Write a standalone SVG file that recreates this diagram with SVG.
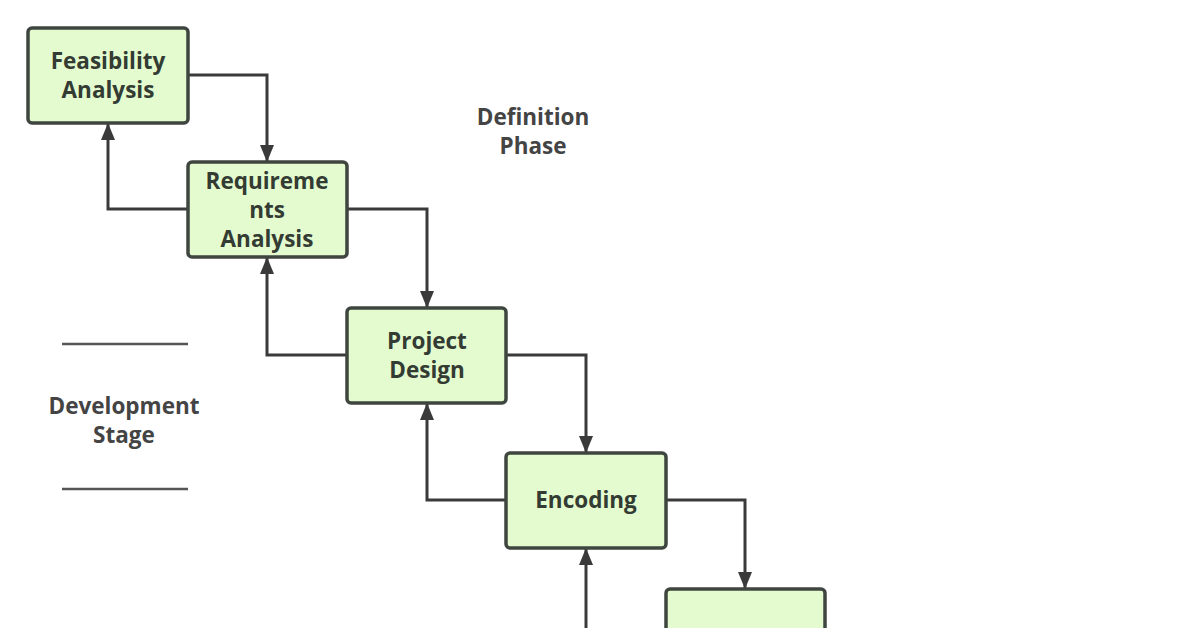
<svg xmlns="http://www.w3.org/2000/svg" width="1200" height="628" viewBox="0 0 1200 628">
<defs>
<style>
.box{fill:#e4fbcf;stroke:#3f453f;stroke-width:3.5}
.t{font-family:"Open Sans","Noto Sans",sans-serif;font-weight:bold;font-size:22.5px;fill:#333b33;text-anchor:middle}
.lbl{font-family:"Open Sans","Noto Sans",sans-serif;font-weight:bold;font-size:22.5px;fill:#444;text-anchor:middle}
.c{fill:none;stroke:#3a3a3a;stroke-width:3}
.rule{stroke:#555;stroke-width:2.5}
</style>
<marker id="ah" markerWidth="17" markerHeight="14" refX="16" refY="7" orient="auto" markerUnits="userSpaceOnUse">
<path d="M0,0 L17,7 L0,14 Z" fill="#3a3a3a"/>
</marker>
</defs>
<rect width="1200" height="628" fill="#fff"/>
<g id="connectors">
<path class="c" d="M188,75 H267 V161" marker-end="url(#ah)"/>
<path class="c" d="M188,209 H108 V124" marker-end="url(#ah)"/>
<path class="c" d="M347,209 H427 V307" marker-end="url(#ah)"/>
<path class="c" d="M347,355 H267 V258" marker-end="url(#ah)"/>
<path class="c" d="M506,355 H586 V452" marker-end="url(#ah)"/>
<path class="c" d="M506,500 H427 V404" marker-end="url(#ah)"/>
<path class="c" d="M666,500 H745 V588" marker-end="url(#ah)"/>
<path class="c" d="M586,640 V549" marker-end="url(#ah)"/>
</g>
<g id="n1"><rect class="box" x="28" y="28" width="160" height="95" rx="4"/>
<text class="t" x="108" y="69">Feasibility</text><text class="t" x="108" y="98">Analysis</text></g>
<g id="n2"><rect class="box" x="188" y="162" width="159" height="95" rx="4"/>
<text class="t" x="267" y="189">Requireme</text><text class="t" x="267" y="218">nts</text><text class="t" x="267" y="247">Analysis</text></g>
<g id="n3"><rect class="box" x="347" y="308" width="159" height="95" rx="4"/>
<text class="t" x="427" y="349">Project</text><text class="t" x="427" y="378">Design</text></g>
<g id="n4"><rect class="box" x="506" y="453" width="160" height="95" rx="4"/>
<text class="t" x="586" y="508">Encoding</text></g>
<g id="n5"><rect class="box" x="666" y="589" width="159" height="95" rx="4"/>
<text class="t" x="745" y="648">Testing</text></g>
<g id="definition"><text class="lbl" x="533" y="125">Definition</text><text class="lbl" x="533" y="154">Phase</text></g>
<g id="development">
<line class="rule" x1="62" y1="344" x2="188" y2="344"/>
<text class="lbl" x="124" y="414">Development</text><text class="lbl" x="124" y="443">Stage</text>
<line class="rule" x1="62" y1="489" x2="188" y2="489"/>
</g>
</svg>
